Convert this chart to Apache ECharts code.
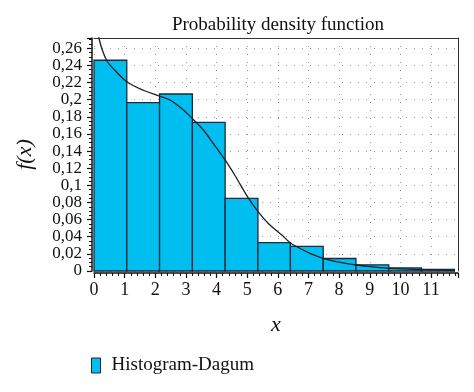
<!DOCTYPE html>
<html>
<head>
<meta charset="utf-8">
<script src="https://cdn.jsdelivr.net/npm/echarts@6/dist/echarts.min.js"></script>
<style>
html,body{margin:0;padding:0;background:#fff;}
#chart{width:474px;height:392px;}
</style>
</head>
<body>
<div id="chart"></div>
<script>
// Histogram bins
var binStart = [0, 1.07, 2.14, 3.21, 4.28, 5.35, 6.41, 7.48, 8.55, 9.62, 10.69];
var binEnd   = [1.07, 2.14, 3.21, 4.28, 5.35, 6.41, 7.48, 8.55, 9.62, 10.69, 11.76];
var binHeight = [0.246, 0.1965, 0.2066, 0.1736, 0.0848, 0.0332, 0.0287, 0.0146, 0.0072, 0.0036, 0.0020];

// Fitted Dagum density curve
var curveX = [0.06, 0.16, 0.41, 0.69, 1.07, 1.61, 2.15, 2.48, 2.92, 3.22, 3.57, 3.89, 4.28, 4.60, 5.04, 5.36, 5.69, 6.13, 6.40, 6.72, 7.05, 7.48, 8.03, 8.57, 9.12, 9.66, 10.75, 11.76];
var curveY = [0.300, 0.272, 0.246, 0.234, 0.221, 0.211, 0.204, 0.1996, 0.188, 0.1775, 0.1646, 0.149, 0.1296, 0.1115, 0.085, 0.069, 0.0555, 0.042, 0.033, 0.0265, 0.0206, 0.0148, 0.0101, 0.007, 0.0047, 0.003, 0.0016, 0.0008];

var titleText = 'Probability density function';
var legendName = 'Histogram-Dagum';
var xName = 'x';
var yName = 'f(x)';

var FONT = '"Liberation Serif", "DejaVu Serif", serif';

var histData = binStart.map(function (s, i) { return [s, binEnd[i], binHeight[i]]; });
var curveData = curveX.map(function (x, i) { return [x, curveY[i]]; });

var chart = echarts.init(document.getElementById('chart'), null, {renderer: 'canvas'});

var XMAX = 11.88, YMAX = 0.272;

chart.setOption({
  animation: false,
  backgroundColor: '#fff',
  title: {
    text: titleText,
    left: 273,
    top: 11,
    textAlign: 'center',
    textStyle: {fontFamily: FONT, fontSize: 19, fontWeight: 'normal', color: '#111'}
  },
  legend: {
    data: [{name: legendName, icon: 'rect'}],
    left: 86,
    top: 351,
    itemWidth: 9,
    itemHeight: 15,
    itemStyle: {color: '#00bff0', borderColor: '#1b2a3a', borderWidth: 1},
    textStyle: {fontFamily: FONT, fontSize: 19, color: '#111', padding: [0, 0, 0, 6]}
  },
  grid: {left: 94, right: 16, top: 38, bottom: 121, containLabel: false},
  xAxis: [{
    type: 'value',
    min: 0, max: XMAX, interval: 1,
    offset: 2,
    name: xName,
    nameLocation: 'middle',
    nameGap: 41,
    nameTextStyle: {fontFamily: FONT, fontSize: 22, fontStyle: 'italic', color: '#111'},
    axisLine: {show: true, onZero: false, lineStyle: {color: '#111', width: 1.5}},
    axisTick: {show: true, length: 5, lineStyle: {color: '#111', width: 1.2}},
    minorTick: {show: true, splitNumber: 5, length: 3, lineStyle: {color: '#111', width: 1}},
    axisLabel: {fontFamily: FONT, fontSize: 18, color: '#111', margin: 8, showMaxLabel: false},
    splitLine: {show: true, lineStyle: {color: '#999', width: 1, type: [1, 7]}},
    minorSplitLine: {show: false}
  }, {
    type: 'value', position: 'top', min: 0, max: XMAX,
    axisLine: {show: true, onZero: false, lineStyle: {color: '#333', width: 1}},
    axisTick: {show: false}, axisLabel: {show: false}, splitLine: {show: false}
  }],
  yAxis: [{
    type: 'value',
    min: 0, max: YMAX, interval: 0.02,
    offset: 2,
    name: yName,
    nameLocation: 'middle',
    nameGap: 56,
    nameRotate: 90,
    nameTextStyle: {fontFamily: FONT, fontSize: 22, fontStyle: 'italic', color: '#111'},
    axisLine: {show: true, onZero: false, lineStyle: {color: '#111', width: 1.5}},
    axisTick: {show: true, length: 5, lineStyle: {color: '#111', width: 1.2}},
    minorTick: {show: true, splitNumber: 4, length: 3, lineStyle: {color: '#111', width: 1}},
    axisLabel: {
      fontFamily: FONT, fontSize: 17, color: '#111', margin: 10,
      showMaxLabel: false,
      formatter: function (v) { return v === 0 ? '0' : String(+v.toFixed(2)).replace('.', ','); }
    },
    splitLine: {show: true, lineStyle: {color: '#999', width: 1, type: [1, 7]}}
  }, {
    type: 'value', position: 'right', min: 0, max: YMAX,
    axisLine: {show: true, onZero: false, lineStyle: {color: '#333', width: 1}},
    axisTick: {show: false}, axisLabel: {show: false}, splitLine: {show: false}
  }],
  series: [{
    name: legendName,
    type: 'custom',
    xAxisIndex: 0, yAxisIndex: 0,
    data: histData,
    encode: {x: [0, 1], y: 2},
    itemStyle: {color: '#00bff0', borderColor: '#1b2a3a', borderWidth: 1.3},
    renderItem: function (params, api) {
      var p0 = api.coord([api.value(0), api.value(2)]);
      var p1 = api.coord([api.value(1), 0]);
      return {
        type: 'rect',
        shape: {x: p0[0], y: p0[1], width: p1[0] - p0[0], height: p1[1] - p0[1]},
        style: {fill: '#00bff0', stroke: '#1b2a3a', lineWidth: 1.3}
      };
    }
  }, {
    name: 'Dagum',
    type: 'line',
    xAxisIndex: 0, yAxisIndex: 0,
    data: curveData,
    smooth: 0.35,
    showSymbol: false,
    clip: true,
    lineStyle: {color: '#1a1f2b', width: 1.3},
    z: 5
  }]
});
</script>
</body>
</html>
